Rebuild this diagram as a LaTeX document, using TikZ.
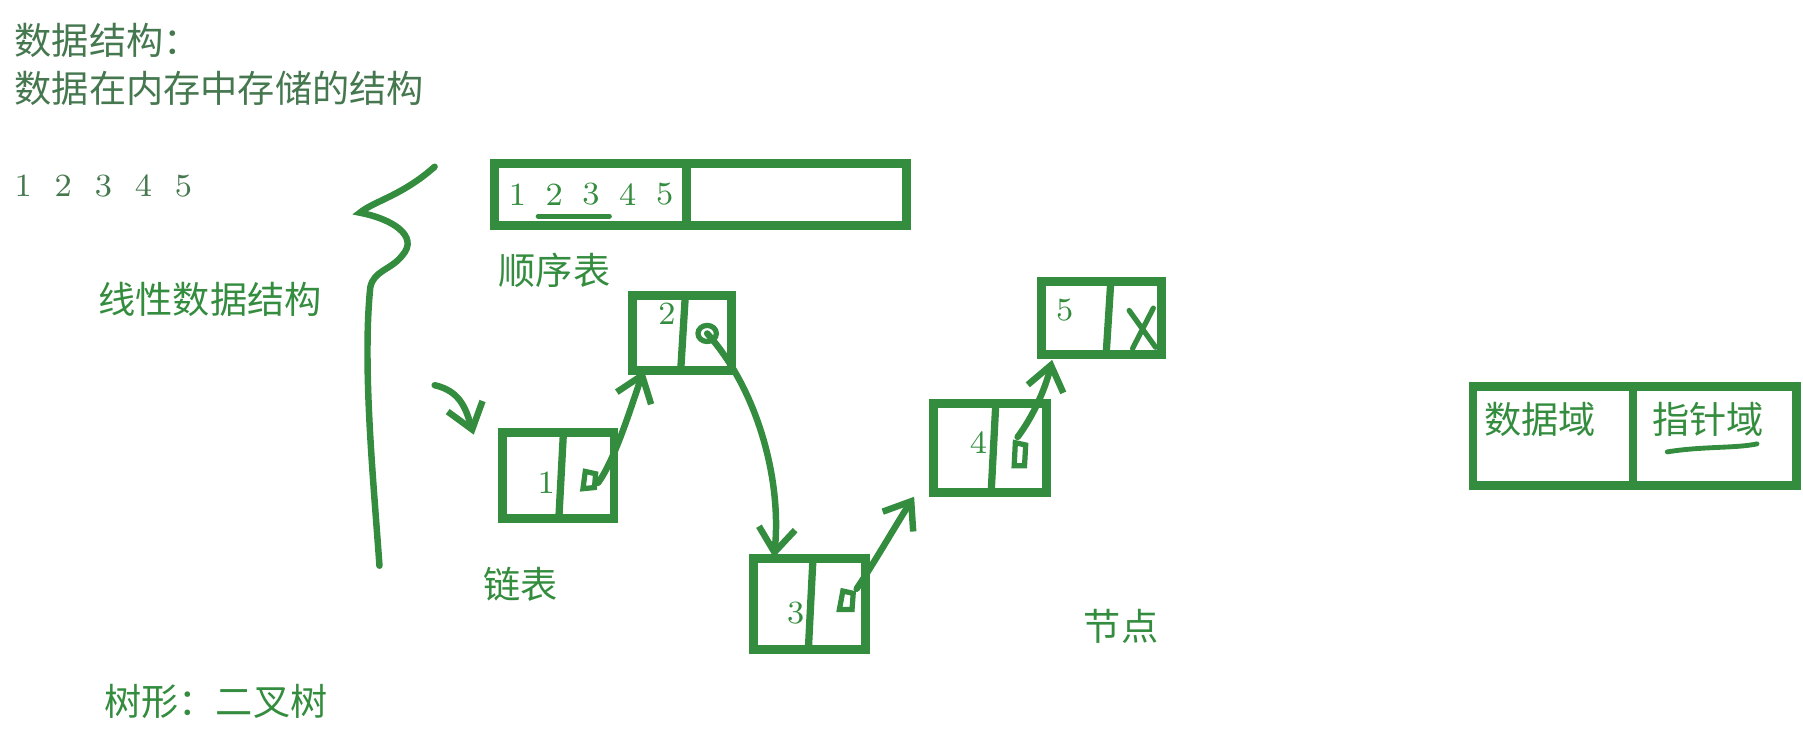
\documentclass[tikz,border=0pt]{standalone}
\usepackage{fontspec}
\newfontfamily\cjk{Noto Sans CJK SC}
\usetikzlibrary{arrows.meta, positioning}
\definecolor{pen}{RGB}{52,140,62}
\definecolor{dark}{RGB}{70,120,80}
\tikzset{
    cell/.style={draw=pen, line width=2.2pt, minimum width=#1, inner sep=0pt},
    txt/.style={text=pen, font=\cjk\fontsize{9.2}{11}\selectfont, anchor=west, inner sep=0pt},
    num/.style={text=pen, font=\fontsize{8}{9}\selectfont, inner sep=0pt},
    ink/.style={draw=pen, line width=1.6pt, line cap=round},
    hand/.style={ink, -{Straight Barb[length=6pt, width=9pt]}}
}
\begin{document}
\begin{tikzpicture}[x=0.01cm, y=-0.01cm]
    \useasboundingbox (0,0) rectangle (1568,636);
    % headings
    \node[txt, text=dark] (t1) at (12,35) {数据结构：};
    \node[txt, text=dark] (t2) at (12,77) {数据在内存中存储的结构};
    \node[num, anchor=west, text=dark] (seq) at (12,162) {1\ \ 2\ \ 3\ \ 4\ \ 5};
    \node[txt] (lin) at (85,260) {线性数据结构};
    \node[txt] (tree) at (90,610) {树形：二叉树};
    % brace
    \draw[ink] (378,145) .. controls (350,170) and (325,175) .. (313,185)
        .. controls (340,190) and (365,205) .. (350,222)
        .. controls (340,235) and (325,235) .. (322,250)
        .. controls (315,320) and (325,420) .. (330,492);
    % sequential table
    \draw[cell] (430,142) rectangle (788,196);
    \draw[ink, line width=2pt] (597,142) -- (597,196);
    \foreach \d [count=\i] in {1,...,5}
        \node[num] (s\i) at (418+32*\i,169) {\d};
    \draw[ink, line width=1.2pt] (468,188) -- (530,188);
    \node[txt] (shun) at (433,235) {顺序表};
    % linked list nodes
    \foreach \n/\xa/\ya/\xb/\yb/\xm in {1/437/376/534/451/490, 2/550/257/636/322/596,
        3/655/486/753/565/707, 4/812/351/910/428/866, 5/906/245/1010/308/966} {
        \draw[cell] (\xa,\ya) rectangle (\xb,\yb);
        \draw[ink, line width=1.8pt] (\xm,\ya) -- (\xm-4,\yb);
    }
    \node[num] (d1) at (475,420) {1};
    \node[num] (d2) at (580,273) {2};
    \node[num] (d3) at (692,533) {3};
    \node[num] (d4) at (851,385) {4};
    \node[num] (d5) at (926,270) {5};
    % pointer scribbles
    \draw[ink, line width=1.3pt] (507,425) -- (509,410) -- (518,412) -- (517,424) -- cycle;
    \draw[ink, line width=1.3pt] (615,290) ellipse (8 and 7);
    \draw[ink, line width=1.3pt] (730,530) -- (733,514) -- (742,516) -- (741,530) -- cycle;
    \draw[ink, line width=1.3pt] (882,405) -- (883,385) -- (892,387) -- (891,405) -- cycle;
    \draw[ink, line width=1.3pt] (982,270) -- (1005,302) (1003,268) -- (985,303);
    \node[txt] (lian) at (420,508) {链表};
    \node[txt] (jie) at (942,545) {节点};
    % arrows
    \coordinate (a0) at (378,335);
    \coordinate (a1) at (412,378);
    \coordinate (e2) at (560,322);
    \coordinate (e3) at (673,485);
    \coordinate (e4) at (795,432);
    \coordinate (e5) at (915,313);
    \draw[hand] (a0) .. controls (400,340) and (405,355) .. (a1);
    \draw[hand] (520,420) .. controls (535,400) and (550,350) .. (e2);
    \draw[hand] (615,290) .. controls (660,340) and (680,420) .. (e3);
    \draw[hand] (745,512) .. controls (760,490) and (780,455) .. (e4);
    \draw[hand] (885,380) .. controls (900,360) and (910,335) .. (e5);
    % node anatomy
    \draw[cell] (1281,336) rectangle (1562,422);
    \draw[ink, line width=2pt] (1420,336) -- (1420,422);
    \node[txt] (dom1) at (1290,365) {数据域};
    \node[txt] (dom2) at (1436,365) {指针域};
    \draw[ink, line width=1.2pt] (1450,393) .. controls (1480,388) and (1510,390) .. (1528,386);
\end{tikzpicture}
\end{document}
